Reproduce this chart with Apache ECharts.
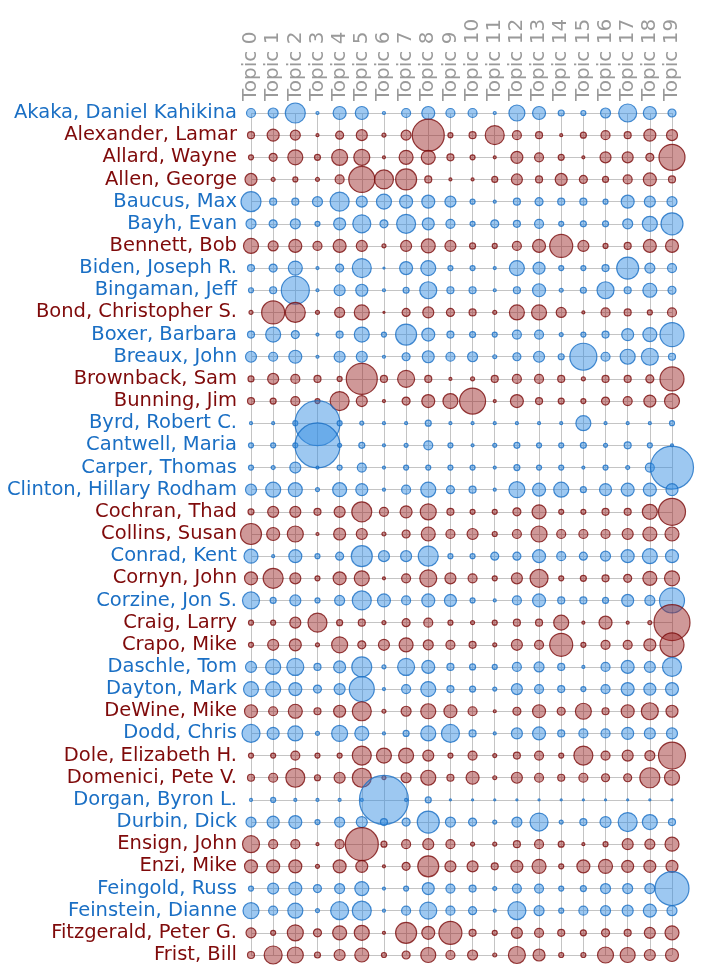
<!DOCTYPE html>
<html><head><meta charset="utf-8">
<script src="https://cdn.jsdelivr.net/npm/echarts@6/dist/echarts.min.js"></script>
<style>html,body{margin:0;padding:0;background:#fff}#c{width:710px;height:970px}</style>
</head><body><div id="c"></div>
<script>
const topics = ["Topic 0","Topic 1","Topic 2","Topic 3","Topic 4","Topic 5","Topic 6","Topic 7","Topic 8","Topic 9","Topic 10","Topic 11","Topic 12","Topic 13","Topic 14","Topic 15","Topic 16","Topic 17","Topic 18","Topic 19"];
const senators = ["Akaka, Daniel Kahikina","Alexander, Lamar","Allard, Wayne","Allen, George","Baucus, Max","Bayh, Evan","Bennett, Bob","Biden, Joseph R.","Bingaman, Jeff","Bond, Christopher S.","Boxer, Barbara","Breaux, John","Brownback, Sam","Bunning, Jim","Byrd, Robert C.","Cantwell, Maria","Carper, Thomas","Clinton, Hillary Rodham","Cochran, Thad","Collins, Susan","Conrad, Kent","Cornyn, John","Corzine, Jon S.","Craig, Larry","Crapo, Mike","Daschle, Tom","Dayton, Mark","DeWine, Mike","Dodd, Chris","Dole, Elizabeth H.","Domenici, Pete V.","Dorgan, Byron L.","Durbin, Dick","Ensign, John","Enzi, Mike","Feingold, Russ","Feinstein, Dianne","Fitzgerald, Peter G.","Frist, Bill"];
const party = ["D","R","R","R","D","D","R","D","D","R","D","D","R","R","D","D","D","D","R","R","D","R","D","R","R","D","D","R","D","R","R","D","D","R","R","D","D","R","R"];
const weights = [
[9,10,20,3,13,13,3,9,13,9,9,3,16,13,6,5,10,18,13,8],
[7,12,10,3,8,11,4,10,32,5,7,19,9,7,3,6,9,7,12,11],
[5,8,15,6,16,16,3,14,14,7,5,3,12,9,6,3,11,11,8,26],
[12,4,5,4,9,26,19,21,7,3,3,6,11,7,12,8,6,9,13,7],
[20,7,7,10,19,11,15,13,13,11,5,3,7,8,7,7,5,13,11,10],
[10,8,10,5,12,18,8,19,12,9,5,8,7,9,5,6,6,10,15,22],
[15,10,13,9,13,11,4,11,14,11,6,5,9,13,23,11,5,7,13,13],
[7,8,14,3,8,19,2,13,15,5,5,3,15,12,5,5,7,22,10,9],
[5,7,28,3,11,12,3,6,17,7,7,3,7,13,4,6,17,7,14,8],
[4,23,20,4,10,15,2,8,11,8,7,4,15,15,10,3,9,7,5,9],
[7,15,8,3,7,15,5,21,13,7,6,5,9,9,4,5,7,12,14,24],
[11,9,13,3,11,11,3,8,12,9,10,4,8,11,6,27,9,15,17,7],
[6,11,9,7,5,31,7,17,7,3,4,7,9,9,7,4,7,7,8,24],
[7,6,9,5,19,11,3,8,13,15,26,3,13,7,6,5,8,9,12,15],
[3,3,5,45,5,4,3,3,6,3,3,3,3,3,3,15,3,3,3,5],
[5,5,5,45,4,6,3,4,9,5,3,4,6,5,5,6,4,7,5,3],
[5,4,11,3,5,9,3,5,5,5,5,3,6,5,5,3,5,4,9,43],
[11,15,14,4,14,12,3,9,15,8,7,3,16,13,15,6,12,13,13,12],
[6,11,11,7,11,20,9,12,16,7,5,5,8,14,5,5,7,7,15,27],
[21,13,16,3,12,11,4,8,14,9,11,5,9,16,9,9,9,11,14,14],
[14,3,13,5,8,21,11,11,20,5,5,8,8,13,9,8,10,13,15,13],
[13,20,11,5,13,15,3,9,17,11,9,5,11,18,5,6,7,8,14,15],
[17,6,11,5,10,19,13,9,13,12,5,3,9,13,7,7,6,12,10,25],
[5,5,11,19,6,7,4,8,9,5,4,5,7,7,15,3,13,3,4,36],
[5,11,12,4,16,8,11,14,10,9,7,4,11,9,23,5,9,9,12,24],
[11,15,17,7,12,20,4,17,13,7,6,5,9,10,7,3,9,13,11,19],
[15,15,13,8,11,25,3,9,15,7,6,4,11,9,7,5,9,13,12,13],
[13,9,14,7,12,19,4,10,15,13,9,3,8,13,8,16,7,13,17,12],
[18,12,15,4,16,14,3,6,15,18,7,3,11,13,7,9,9,12,11,11],
[5,5,9,5,5,19,15,15,11,5,9,4,7,9,5,19,9,11,10,27],
[7,9,19,6,11,19,4,10,15,7,13,4,11,9,7,9,8,8,20,15],
[3,5,3,3,3,3,49,3,6,2,2,2,2,2,2,2,2,2,2,2],
[10,12,13,5,10,11,7,8,22,10,8,4,10,18,4,7,11,19,15,7],
[17,9,9,3,9,33,6,9,11,9,4,4,7,9,6,3,5,11,10,14],
[13,13,13,4,13,12,3,8,21,11,11,7,12,14,5,13,14,12,12,12],
[5,11,13,8,10,14,3,5,12,9,7,4,9,9,5,6,10,10,10,34],
[16,9,15,4,18,19,3,9,17,9,8,3,18,10,5,9,10,11,13,10],
[10,5,16,8,14,15,3,21,13,23,7,5,11,9,7,6,8,7,11,14],
[7,18,16,6,11,14,5,8,15,9,10,4,17,12,5,5,16,15,11,13]
];
const BLUE = {color:'rgba(50,140,225,0.6)', borderColor:'#1a6fc4', borderWidth:1.2};
const RED = {color:'rgba(155,40,40,0.6)', borderColor:'#7a0c0c', borderWidth:1.2};
const data = [];
weights.forEach((row, i) => row.forEach((w, j) => {
  data.push({value:[j, i, w], itemStyle: party[i] === 'D' ? BLUE : RED});
}));
const chart = echarts.init(document.getElementById('c'));
chart.setOption({
  animation:false,
  grid:{left:251, right:38, top:113, bottom:15, containLabel:false},
  xAxis:{type:'category', data:topics, position:'top', boundaryGap:false,
    axisLine:{show:false}, axisTick:{show:false},
    axisLabel:{rotate:-90, color:'#9a9a9a', fontSize:20, fontFamily:'DejaVu Sans', margin:12, interval:0},
    splitLine:{show:true, lineStyle:{color:'#c4c4c4', width:1}}},
  yAxis:{type:'category', data:senators, inverse:true, boundaryGap:false,
    axisLine:{show:false}, axisTick:{show:false},
    axisLabel:{fontSize:19.5, fontFamily:'DejaVu Sans', margin:14, interval:0,
      color:(v, idx) => party[senators.indexOf(v)] === 'D' ? '#1a6fc4' : '#7f0a0a'},
    splitLine:{show:true, lineStyle:{color:'#c4c4c4', width:1}}},
  series:[{type:'scatter', data:data, symbolSize:v => v[2]}]
});
</script></body></html>
